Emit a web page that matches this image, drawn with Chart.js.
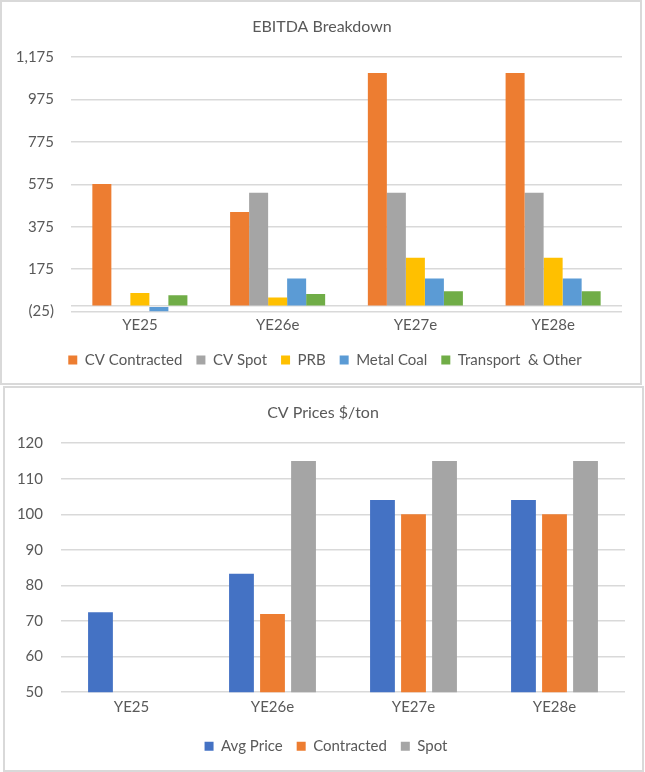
<!DOCTYPE html>
<html>
<head>
<meta charset="utf-8">
<script src="https://cdn.jsdelivr.net/npm/chart.js@4/dist/chart.umd.min.js"></script>
<style>
  body { margin: 0; background: #fff; }
  .box { position: absolute; border: 2px solid #d9d9d9; background: #fff; }
  #box1 { left: 0; top: 0; width: 638px; height: 381px; }
  #box2 { left: 3px; top: 386px; width: 637px; height: 382px; }
  canvas { display: block; }
</style>
</head>
<body>
<div class="box" id="box1"><canvas id="ebitda" width="638" height="381"></canvas></div>
<div class="box" id="box2"><canvas id="prices" width="637" height="382"></canvas></div>
<script>
// categories shared by both charts
var years = ['YE25', 'YE26e', 'YE27e', 'YE28e']

// EBITDA breakdown ($m)
var cvContracted = [577, 444, 1101, 1101]
var cvSpot = [null, 535, 535, 535]
var prb = [62, 41, 229, 229]
var metalCoal = [-25, 131, 131, 131]
var transportOther = [52, 57, 70, 70]

// CV prices $/ton
var avgPrice = [72.5, 83.3, 104, 104]
var contracted = [null, 72, 100, 100]
var spot = [null, 115, 115, 115]

var txt = '#595959'
var gridCol = '#d9d9d9'
Chart.defaults.font.family = 'Lato'
Chart.defaults.color = txt
Chart.defaults.animation = false

function fmt(v) {
    if (v < 0) return '(' + Math.abs(v).toLocaleString('en-US') + ')'
    return v.toLocaleString('en-US')
}

// nudge title / legend sideways so they sit centred like the Excel original
var nudge = {
    id: 'nudge',
    afterLayout: function (chart, args, opts) {
        if (chart.legend) { chart.legend.left += opts.legend; chart.legend.right += opts.legend }
        if (chart.titleBlock) { chart.titleBlock.left += opts.title; chart.titleBlock.right += opts.title }
    }
}

new Chart(document.getElementById('ebitda'), {
    type: 'bar',
    data: {
        labels: years,
        datasets: [
            { label: 'CV Contracted', data: cvContracted, backgroundColor: '#ED7D31' },
            { label: 'CV Spot', data: cvSpot, backgroundColor: '#A5A5A5' },
            { label: 'PRB', data: prb, backgroundColor: '#FFC000' },
            { label: 'Metal Coal', data: metalCoal, backgroundColor: '#5B9BD5' },
            { label: 'Transport  & Other', data: transportOther, backgroundColor: '#70AD47' }
        ]
    },
    plugins: [nudge],
    options: {
        responsive: false,
        layout: { padding: { left: 8, right: 18, top: 0, bottom: 5.5 } },
        datasets: { bar: { categoryPercentage: 0.69, barPercentage: 1.0 } },
        plugins: {
            nudge: { legend: 9, title: 6 },
            title: { display: true, text: 'EBITDA Breakdown', color: txt, font: { size: 16, weight: 'normal' }, padding: { top: 15, bottom: 21 } },
            legend: {
                position: 'bottom',
                labels: { boxWidth: 9, boxHeight: 9, padding: 14, color: txt, font: { size: 15 } }
            },
            tooltip: { enabled: false }
        },
        scales: {
            x: {
                grid: { display: false },
                border: { display: false },
                ticks: { padding: -3, font: { size: 15 } },
                afterFit: function (s) { s.height = 27 }
            },
            y: {
                min: -25,
                max: 1175,
                border: { display: false },
                grid: { color: gridCol, lineWidth: 1.5, drawTicks: false },
                ticks: {
                    stepSize: 200,
                    padding: 17,
                    font: { size: 15 },
                    callback: function (v) { return v === 0 ? '' : fmt(v) }
                },
                afterBuildTicks: function (s) { s.ticks.push({ value: 0 }) },
                afterFit: function (s) { s.width = 61 }
            }
        }
    }
})

new Chart(document.getElementById('prices'), {
    type: 'bar',
    data: {
        labels: years,
        datasets: [
            { label: 'Avg Price', data: avgPrice, backgroundColor: '#4472C4' },
            { label: 'Contracted', data: contracted, backgroundColor: '#ED7D31' },
            { label: 'Spot', data: spot, backgroundColor: '#A5A5A5' }
        ]
    },
    plugins: [nudge],
    options: {
        responsive: false,
        layout: { padding: { left: 5, right: 17, top: 0, bottom: 6.3 } },
        datasets: { bar: { categoryPercentage: 0.66, barPercentage: 0.8 } },
        plugins: {
            nudge: { legend: 8.5, title: 5.5 },
            title: { display: true, text: 'CV Prices $/ton', color: txt, font: { size: 16, weight: 'normal' }, padding: { top: 15, bottom: 21 } },
            legend: {
                position: 'bottom',
                labels: { boxWidth: 9, boxHeight: 9, padding: 14, color: txt, font: { size: 15 } }
            },
            tooltip: { enabled: false }
        },
        scales: {
            x: {
                grid: { display: false },
                border: { display: false },
                ticks: { padding: -2, font: { size: 15 } },
                afterFit: function (s) { s.height = 32.5 }
            },
            y: {
                min: 50,
                max: 120,
                border: { display: false },
                grid: { color: gridCol, lineWidth: 1.5, drawTicks: false },
                ticks: { stepSize: 10, padding: 18, font: { size: 15 } },
                afterFit: function (s) { s.width = 51 }
            }
        }
    }
})
</script>
</body>
</html>
